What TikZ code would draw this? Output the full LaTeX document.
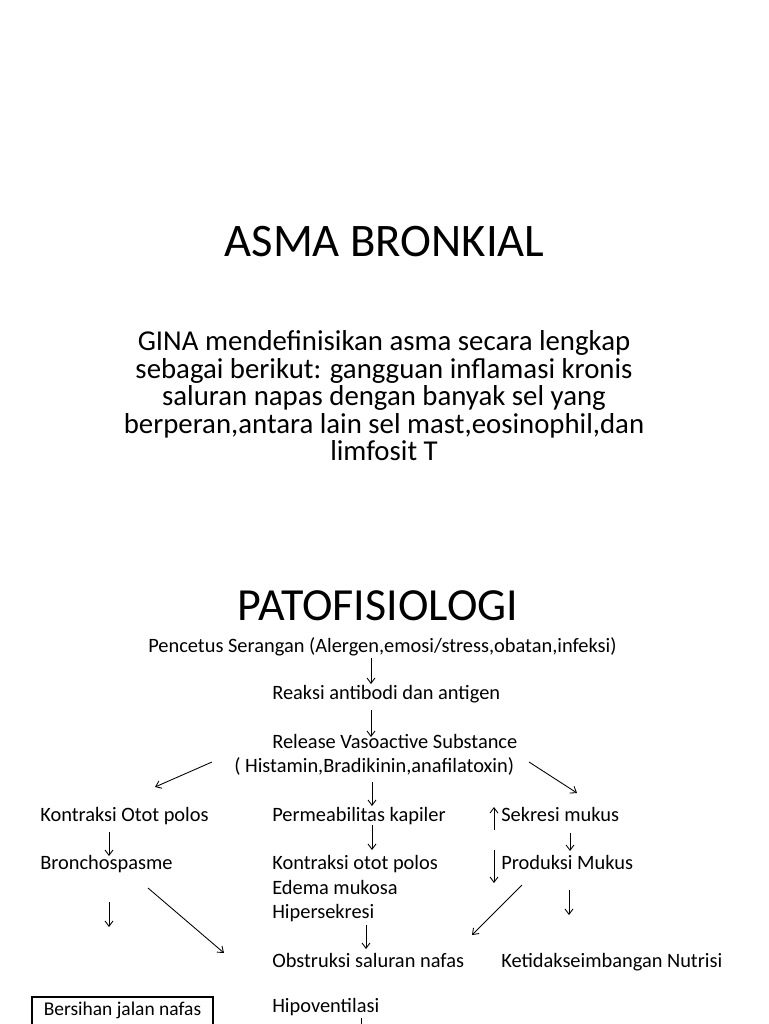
\documentclass[tikz,border=0pt]{standalone}
\usepackage{fontspec}
\setmainfont{Carlito}
\usetikzlibrary{arrows.meta}
\begin{document}
\begin{tikzpicture}[x=0.75pt,y=-0.75pt,
  lbl/.style={anchor=base west,inner sep=0pt,font=\fontsize{15.3}{17}\selectfont},
  arr/.style={-{Straight Barb[length=4pt,width=6pt]},line width=0.65pt},
  ttl/.style={anchor=base,inner sep=0pt,font=\fontsize{35}{40}\selectfont}]
\useasboundingbox[fill=white] (0,0) rectangle (768,1024);
\node[ttl] (title) at (384.5,256) {ASMA BRONKIAL};
\node[anchor=north,inner sep=0pt,align=center,font=\fontsize{21.6}{20.6}\selectfont] (def) at (384,330.5)
 {GINA mendefinisikan asma secara lengkap\\sebagai berikut: gangguan inflamasi kronis\\saluran napas dengan banyak sel yang\\berperan,antara lain sel mast,eosinophil,dan\\limfosit T};
\node[ttl,font=\fontsize{34.5}{38}\selectfont] (pato) at (378,620) {PATOFISIOLOGI};
\node[lbl] (pencetus) at (148,652) {Pencetus Serangan (Alergen,emosi/stress,obatan,infeksi)};
\node[lbl] (reaksi) at (272,699) {Reaksi antibodi dan antigen};
\node[lbl] (release) at (272,748) {Release Vasoactive Substance};
\node[lbl] (hist) at (234,772) {( Histamin,Bradikinin,anafilatoxin)};
\node[lbl] (kontraksi) at (40,821) {Kontraksi Otot polos};
\node[lbl] (perm) at (272,821) {Permeabilitas kapiler};
\node[lbl] (sekresi) at (501,821) {Sekresi mukus};
\node[lbl] (broncho) at (40,869) {Bronchospasme};
\node[lbl] (kontraksi2) at (272,869) {Kontraksi otot polos};
\node[lbl] (produksi) at (501,869) {Produksi Mukus};
\node[lbl] (edema) at (272,894) {Edema mukosa};
\node[lbl] (hiper) at (272,918) {Hipersekresi};
\node[lbl] (obstruksi) at (272,967) {Obstruksi saluran nafas};
\node[lbl] (nutrisi) at (501,967) {Ketidakseimbangan Nutrisi};
\node[lbl] (hipovent) at (272,1012) {Hipoventilasi};
\node[draw,line width=1.1pt,inner sep=0pt,anchor=base,minimum width=135.75pt,
  text height=13.5pt,text depth=16.5pt,font=\fontsize{14.6}{16}\selectfont] (bersihan) at (122.5,1015) {Bersihan jalan nafas};
% arrow endpoints
\coordinate (a1s) at (371,658); \coordinate (a1e) at (371,684);
\coordinate (a2s) at (371,710); \coordinate (a2e) at (371,737);
\coordinate (a3s) at (212,762); \coordinate (a3e) at (155,787);
\coordinate (a4s) at (529,762); \coordinate (a4e) at (577,793);
\coordinate (a5s) at (372,782); \coordinate (a5e) at (372,806);
\coordinate (a6s) at (494,830); \coordinate (a6e) at (494,807);
\coordinate (a7s) at (109,832); \coordinate (a7e) at (109,856);
\coordinate (a8s) at (372,825); \coordinate (a8e) at (372,850);
\coordinate (a9s) at (570,833); \coordinate (a9e) at (570,851);
\coordinate (a10s) at (494,850); \coordinate (a10e) at (494,883);
\coordinate (a11s) at (109,902); \coordinate (a11e) at (109,927);
\coordinate (a12s) at (148,888); \coordinate (a12e) at (224,953);
\coordinate (a13s) at (522,885); \coordinate (a13e) at (472,935);
\coordinate (a14s) at (569,890); \coordinate (a14e) at (569,915);
\coordinate (a15s) at (366,925); \coordinate (a15e) at (366,949);
\coordinate (a16s) at (361,1018); \coordinate (a16e) at (361,1040);
\foreach \i in {1,...,16} {\draw[arr] (a\i s) -- (a\i e);}
\end{tikzpicture}
\end{document}
